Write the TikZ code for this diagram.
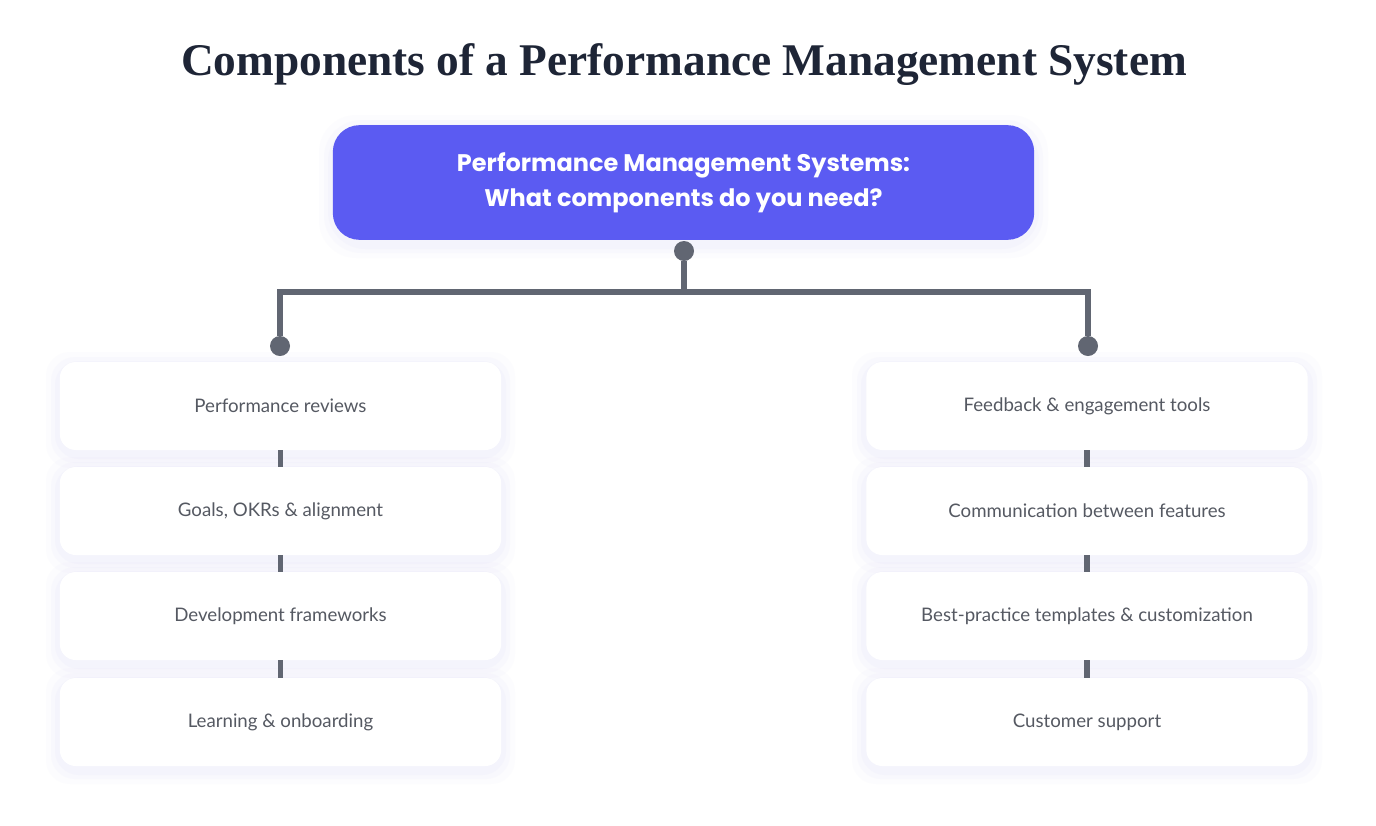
\documentclass[tikz,border=0pt]{standalone}
\usepackage{fontspec}
\setmainfont{Liberation Serif}
\setsansfont{Poppins}
\newfontfamily\bodyf{Lato}
\definecolor{purp}{HTML}{5B5BF2}
\definecolor{navy}{HTML}{1E2536}
\definecolor{lin}{HTML}{616672}
\definecolor{txt}{HTML}{555962}
\definecolor{halo}{HTML}{E6E4FB}
\begin{document}
\begin{tikzpicture}[x=0.75pt,y=-0.75pt,
  card/.style={fill=white,rounded corners=12pt,minimum width=331pt,minimum height=66pt,inner sep=0pt,
    font=\bodyf\fontsize{14}{16}\selectfont,text=txt},
  ln/.style={draw=lin,line width=3.8pt},
  dot/.style={circle,fill=lin,inner sep=0pt,minimum size=15pt}]
\useasboundingbox (0,0) rectangle (1376,825);
\fill[white] (0,0) rectangle (1376,825);
\node (title) at (684,65) {\fontsize{34}{40}\selectfont\bfseries\color{navy}Components of a Performance Management System};
% halo
\foreach \i/\o in {14/0.10,9/0.15,5/0.2}{
  \fill[halo,opacity=\o,rounded corners=28pt] (333-\i,125-\i+4) rectangle (1034+\i,240+\i+4);
  \foreach \y in {362,467,572,678}{
    \fill[halo,opacity=\o,rounded corners=18pt] (60-\i,\y-\i+4) rectangle (501+\i,\y+88+\i+4);
    \fill[halo,opacity=\o,rounded corners=18pt] (866-\i,\y-\i+4) rectangle (1308+\i,\y+88+\i+4);}}
\node[fill=purp,rounded corners=20pt,minimum width=526pt,minimum height=86pt,text=white,align=center,
  font=\sffamily\bfseries\fontsize{18}{26}\selectfont] (top) at (683.5,182.5) {Performance Management Systems:\\What components do you need?};
\node[dot] (d0) at (684,251) {};
\node[dot] (dl) at (280,346) {};
\node[dot] (dr) at (1088,346) {};
\coordinate (j) at (684,292);
\draw[ln] (d0) -- (j) -| (dl);
\draw[ln] (j) -| (dr);
\foreach \n/\y/\t in {l1/406/Performance reviews,l2/511/{Goals, OKRs \& alignment},l3/616/Development frameworks,l4/722/Learning \& onboarding}
  \node[card] (\n) at (280.5,\y) {\t};
\foreach \n/\y/\t in {r1/406/Feedback \& engagement tools,r2/511/Communication between features,r3/616/Best-practice templates \& customization,r4/722/Customer support}
  \node[card] (\n) at (1087,\y) {\t};
\begin{scope}[on background layer/.style={}]
\foreach \a/\b in {l1/l2,l2/l3,l3/l4,r1/r2,r2/r3,r3/r4}
  \draw[ln] (\a.south) -- (\b.north);
\end{scope}
\end{tikzpicture}
\end{document}
